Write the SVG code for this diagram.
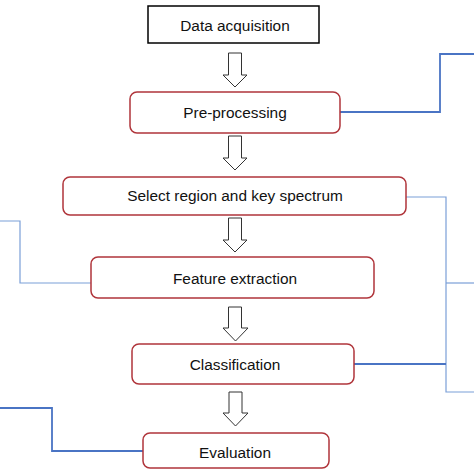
<svg xmlns="http://www.w3.org/2000/svg" width="474" height="474" viewBox="0 0 474 474">
<style>
.box{fill:#fff;stroke:#b0353b;stroke-width:1.5}
.plain{fill:#fff;stroke:#000;stroke-width:1.5}
.lbl{font-family:"Liberation Sans",Arial,sans-serif;font-size:15.4px;fill:#111;text-anchor:middle;dominant-baseline:central}
.arr{fill:#fff;stroke:#333;stroke-width:1}
.dk{fill:none;stroke:#4a74c4;stroke-width:1.8}
.lt{fill:none;stroke:#7b9fd8;stroke-width:1.2}
</style>
<rect width="474" height="474" fill="#fff"/>
<g id="connectors">
<path class="arr" d="M228.5,53 H241.5 V75 H247 L235,87 L223,75 H228.5 Z"/>
<path class="arr" d="M228.5,136 H241.5 V158 H247 L235,170 L223,158 H228.5 Z"/>
<path class="arr" d="M228.5,218 H241.5 V240 H247 L235,252 L223,240 H228.5 Z"/>
<path class="arr" d="M228.5,307 H241.5 V328 H248 L235.5,341 L223,328 H228.5 Z"/>
<path class="arr" d="M229,392 H242 V413 H248 L235.5,426 L223,413 H229 Z"/>
<path class="dk" d="M340,112 H440 V54 H474"/>
<path class="lt" d="M406,197 H446 V392 H474"/>
<path class="lt" d="M446,283 H474"/>
<path class="dk" d="M354,364 H446"/>
<path class="lt" d="M0,221 H20 V283 H91"/>
<path class="dk" d="M0,408 H52 V451 H143"/>
</g>
<g id="n1"><rect class="plain" x="148" y="6" width="171" height="37"/><text class="lbl" x="235" y="25">Data acquisition</text></g>
<g id="n2"><rect class="box" x="130" y="92" width="210" height="41" rx="7"/><text class="lbl" x="235" y="112">Pre-processing</text></g>
<g id="n3"><rect class="box" x="63" y="177" width="343" height="38" rx="7"/><text class="lbl" x="235" y="195">Select region and key spectrum</text></g>
<g id="n4"><rect class="box" x="91" y="257" width="283" height="41" rx="7"/><text class="lbl" x="235" y="278">Feature extraction</text></g>
<g id="n5"><rect class="box" x="132" y="344" width="222" height="40" rx="7"/><text class="lbl" x="235" y="364">Classification</text></g>
<g id="n6"><rect class="box" x="143" y="433" width="186" height="35" rx="7"/><text class="lbl" x="235" y="452">Evaluation</text></g>
</svg>
